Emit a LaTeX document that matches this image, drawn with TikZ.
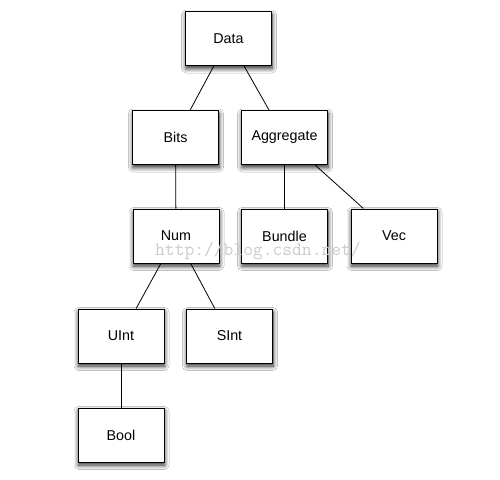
\documentclass[tikz,border=0pt]{standalone}
\usepackage{fontspec}
\setmainfont{Liberation Sans}
\usetikzlibrary{shadows.blur}
\begin{document}
\begin{tikzpicture}[x=1pt,y=-1pt,
  box/.style={draw=black, line width=1pt, fill=white, minimum width=86pt, minimum height=54pt, inner sep=0pt,
    font=\fontsize{14.3}{16}\selectfont,
    blur shadow={shadow xshift=0.5pt, shadow yshift=-3pt, shadow blur radius=4.5pt, shadow opacity=85, shadow blur steps=8}},
  link/.style={draw=black, line width=0.8pt},
  wm/.style={text=black!20, font=\ttfamily\fontsize{19}{20}\selectfont, inner sep=0pt}]
\useasboundingbox[fill=white] (0,0) rectangle (500,479);
\node[box] (data) at (228.5,38.5) {Data};
\node[box] (bits) at (175.5,137.5) {Bits};
\node[box] (agg) at (284.5,137.5) {Aggregate};
\node[box] (num) at (176,236) {Num};
\node[box] (bundle) at (284.5,236) {Bundle};
\node[box] (vec) at (394,236) {Vec};
\node[box] (uint) at (121,336) {UInt};
\node[box] (sint) at (229.5,336) {SInt};
\node[box] (bool) at (121,435) {Bool};
\draw[link] (data) -- (bits);
\draw[link] (data) -- (agg);
\draw[link] (bits) -- (num);
\draw[link] (agg) -- (bundle);
\draw[link] (agg) -- (vec);
\draw[link] (num) -- (uint);
\draw[link] (num) -- (sint);
\draw[link] (uint) -- (bool);
\node[wm, anchor=base west] (wmark) at (155,255) {http://blog.csdn.net/};
\end{tikzpicture}
\end{document}
